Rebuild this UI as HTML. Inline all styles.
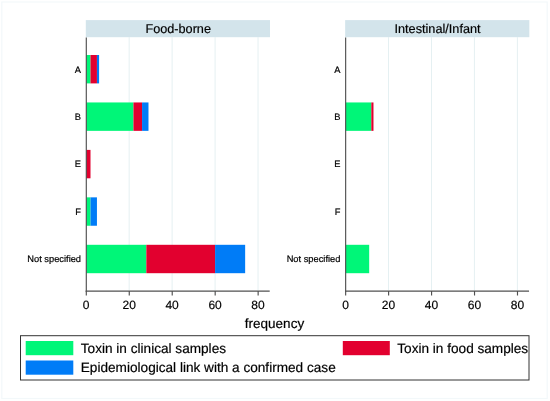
<!DOCTYPE html>
<html><head><meta charset="utf-8"><title>chart</title>
<style>html,body{margin:0;padding:0;background:#fff;}svg{display:block}text{text-rendering:geometricPrecision;stroke:#000;stroke-width:.18px;stroke-linejoin:round}</style></head>
<body>
<svg width="550" height="401" viewBox="0 0 550 401" font-family="'Liberation Sans', sans-serif" fill="#000">
<rect x="0" y="0" width="550" height="401" fill="#fff"/>
<rect x="1.8" y="2" width="545.4" height="396.5" fill="none" stroke="#f3f8fa" stroke-width="1.2"/>
<rect x="85.80" y="20.1" width="184.20" height="17.1" fill="#d3e4eb"/>
<text x="178.2" y="33.0" text-anchor="middle" font-size="12.7">Food-borne</text>
<line x1="129.16" y1="37" x2="129.16" y2="290.2" stroke="#e5f0f2" stroke-width="1"/>
<line x1="172.12" y1="37" x2="172.12" y2="290.2" stroke="#e5f0f2" stroke-width="1"/>
<line x1="215.08" y1="37" x2="215.08" y2="290.2" stroke="#e5f0f2" stroke-width="1"/>
<line x1="258.04" y1="37" x2="258.04" y2="290.2" stroke="#e5f0f2" stroke-width="1"/>
<rect x="86.20" y="55.00" width="4.30" height="28.4" fill="#00f678"/>
<rect x="90.50" y="55.00" width="6.44" height="28.4" fill="#e2002f"/>
<rect x="96.94" y="55.00" width="2.15" height="28.4" fill="#007cf7"/>
<rect x="86.20" y="102.45" width="47.26" height="28.4" fill="#00f678"/>
<rect x="133.46" y="102.45" width="8.59" height="28.4" fill="#e2002f"/>
<rect x="142.05" y="102.45" width="6.44" height="28.4" fill="#007cf7"/>
<rect x="86.20" y="149.90" width="4.30" height="28.4" fill="#e2002f"/>
<rect x="86.20" y="197.35" width="4.30" height="28.4" fill="#00f678"/>
<rect x="90.50" y="197.35" width="6.44" height="28.4" fill="#007cf7"/>
<rect x="86.20" y="244.80" width="60.14" height="28.4" fill="#00f678"/>
<rect x="146.34" y="244.80" width="68.74" height="28.4" fill="#e2002f"/>
<rect x="215.08" y="244.80" width="30.07" height="28.4" fill="#007cf7"/>
<line x1="86.30" y1="37.5" x2="86.30" y2="291.6" stroke="#505050" stroke-width="1.15"/>
<line x1="85.65" y1="291" x2="269.7" y2="291" stroke="#505050" stroke-width="1.25"/>
<line x1="86.30" y1="291" x2="86.30" y2="295.5" stroke="#505050" stroke-width="1.15"/>
<text x="86.20" y="308.8" text-anchor="middle" font-size="12">0</text>
<line x1="129.26" y1="291" x2="129.26" y2="295.5" stroke="#505050" stroke-width="1.15"/>
<text x="129.16" y="308.8" text-anchor="middle" font-size="12">20</text>
<line x1="172.22" y1="291" x2="172.22" y2="295.5" stroke="#505050" stroke-width="1.15"/>
<text x="172.12" y="308.8" text-anchor="middle" font-size="12">40</text>
<line x1="215.18" y1="291" x2="215.18" y2="295.5" stroke="#505050" stroke-width="1.15"/>
<text x="215.08" y="308.8" text-anchor="middle" font-size="12">60</text>
<line x1="258.14" y1="291" x2="258.14" y2="295.5" stroke="#505050" stroke-width="1.15"/>
<text x="258.04" y="308.8" text-anchor="middle" font-size="12">80</text>
<text x="81.05" y="72.55" text-anchor="end" font-size="9.3" style="stroke-width:.2px">A</text>
<text x="81.05" y="120.00" text-anchor="end" font-size="9.3" style="stroke-width:.2px">B</text>
<text x="81.05" y="167.45" text-anchor="end" font-size="9.3" style="stroke-width:.2px">E</text>
<text x="81.05" y="214.90" text-anchor="end" font-size="9.3" style="stroke-width:.2px">F</text>
<text x="81.05" y="262.35" text-anchor="end" font-size="9.3" style="stroke-width:.2px">Not specified</text>
<rect x="345.15" y="20.1" width="184.20" height="17.1" fill="#d3e4eb"/>
<text x="437.54999999999995" y="33.0" text-anchor="middle" font-size="12.7">Intestinal/Infant</text>
<line x1="388.51" y1="37" x2="388.51" y2="290.2" stroke="#e5f0f2" stroke-width="1"/>
<line x1="431.47" y1="37" x2="431.47" y2="290.2" stroke="#e5f0f2" stroke-width="1"/>
<line x1="474.43" y1="37" x2="474.43" y2="290.2" stroke="#e5f0f2" stroke-width="1"/>
<line x1="517.39" y1="37" x2="517.39" y2="290.2" stroke="#e5f0f2" stroke-width="1"/>
<rect x="345.55" y="102.45" width="25.78" height="28.4" fill="#00f678"/>
<rect x="371.33" y="102.45" width="2.15" height="28.4" fill="#e2002f"/>
<rect x="345.55" y="244.80" width="23.63" height="28.4" fill="#00f678"/>
<line x1="345.65" y1="37.5" x2="345.65" y2="291.6" stroke="#505050" stroke-width="1.15"/>
<line x1="345.00" y1="291" x2="529.05" y2="291" stroke="#505050" stroke-width="1.25"/>
<line x1="345.65" y1="291" x2="345.65" y2="295.5" stroke="#505050" stroke-width="1.15"/>
<text x="345.55" y="308.8" text-anchor="middle" font-size="12">0</text>
<line x1="388.61" y1="291" x2="388.61" y2="295.5" stroke="#505050" stroke-width="1.15"/>
<text x="388.51" y="308.8" text-anchor="middle" font-size="12">20</text>
<line x1="431.57" y1="291" x2="431.57" y2="295.5" stroke="#505050" stroke-width="1.15"/>
<text x="431.47" y="308.8" text-anchor="middle" font-size="12">40</text>
<line x1="474.53" y1="291" x2="474.53" y2="295.5" stroke="#505050" stroke-width="1.15"/>
<text x="474.43" y="308.8" text-anchor="middle" font-size="12">60</text>
<line x1="517.49" y1="291" x2="517.49" y2="295.5" stroke="#505050" stroke-width="1.15"/>
<text x="517.39" y="308.8" text-anchor="middle" font-size="12">80</text>
<text x="340.40" y="72.55" text-anchor="end" font-size="9.3" style="stroke-width:.2px">A</text>
<text x="340.40" y="120.00" text-anchor="end" font-size="9.3" style="stroke-width:.2px">B</text>
<text x="340.40" y="167.45" text-anchor="end" font-size="9.3" style="stroke-width:.2px">E</text>
<text x="340.40" y="214.90" text-anchor="end" font-size="9.3" style="stroke-width:.2px">F</text>
<text x="340.40" y="262.35" text-anchor="end" font-size="9.3" style="stroke-width:.2px">Not specified</text>
<text x="274.5" y="328" text-anchor="middle" font-size="13.5">frequency</text>
<rect x="20.5" y="335.7" width="508.5" height="44.3" fill="#fff" stroke="#333" stroke-width="1"/>
<rect x="25.7" y="341" width="47.6" height="14.2" fill="#00f678"/>
<rect x="25.7" y="360.5" width="47.6" height="14.2" fill="#007cf7"/>
<rect x="342.8" y="341" width="47" height="14.2" fill="#e2002f"/>
<text x="80.8" y="353.2" font-size="13.62">Toxin in clinical samples</text>
<text x="80.8" y="372.1" font-size="13.62">Epidemiological link with a confirmed case</text>
<text x="397.3" y="353.2" font-size="13.62">Toxin in food samples</text>
</svg>
</body></html>
